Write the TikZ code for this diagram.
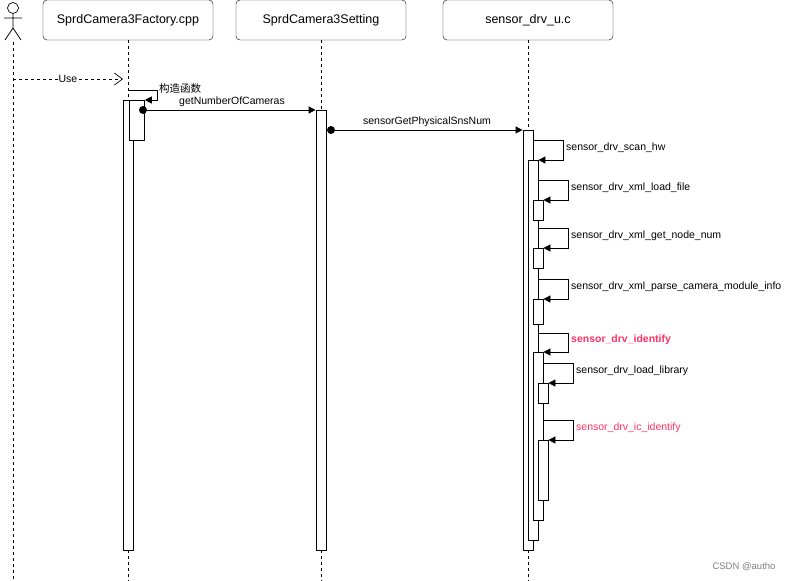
\documentclass[tikz,border=0pt]{standalone}
\usepackage{fontspec}
\setmainfont{Liberation Sans}
\newfontfamily\cjk{Noto Sans CJK SC}
\usetikzlibrary{arrows.meta}
\definecolor{redt}{HTML}{FF3366}
\begin{document}
\begin{tikzpicture}[x=1pt,y=-1pt,
  head/.style={draw,rounded corners=4pt,minimum width=170pt,minimum height=40pt,font=\fontsize{12.5}{14}\selectfont,inner sep=0},
  life/.style={dash pattern=on 3pt off 3pt,line width=0.7pt},
  act/.style={draw,fill=white,line width=0.8pt},
  msg/.style={line width=0.8pt,-{Triangle[length=7pt,width=7pt]}},
  lbl/.style={font=\fontsize{10.5}{12}\selectfont,anchor=west,inner sep=1pt},
  dot/.style={fill,circle,inner sep=0,minimum size=8pt}]
\useasboundingbox (0,0) rectangle (793,581);
% headers
\node[head] (f) at (128,20) {SprdCamera3Factory.cpp};
\node[head] (s) at (321,20) {SprdCamera3Setting};
\node[head] (d) at (528,20) {sensor\_drv\_u.c};
% actor
\draw[line width=0.7pt] (13,8) circle (5.5);
\draw[line width=0.7pt] (13,13.5) -- (13,28) (4,18) -- (22,18) (13,28) -- (5,40) (13,28) -- (21,40);
\coordinate (aend) at (13,581);
\draw[life] (13,42) -- (aend);
\draw[life] (f.south) -- (128,581);
\draw[life] (s.south) -- (321,581);
\draw[life] (d.south) -- (528,581);
% Use
\coordinate (u1) at (13,79); \coordinate (u2) at (123,79);
\draw[dash pattern=on 3pt off 3pt,line width=0.7pt,-{Straight Barb[length=8pt,width=12pt]}] (u1) -- node[fill=white,inner sep=1pt,font=\fontsize{10.5}{12}\selectfont,pos=0.5]{Use} (u2);
% activations
\node[act,minimum width=10pt,minimum height=450pt,inner sep=0,anchor=north] (fa) at (128,100) {};
\node[act,minimum width=15pt,minimum height=40pt,inner sep=0,anchor=north west] (fb) at (129,100) {};
\node[act,minimum width=10pt,minimum height=440pt,inner sep=0,anchor=north] (sa) at (321,110) {};
\node[act,minimum width=10pt,minimum height=420pt,inner sep=0,anchor=north] (d1) at (528,130) {};
\node[act,minimum width=10pt,minimum height=380pt,inner sep=0,anchor=north] (d2) at (533,160) {};
\node[act,minimum width=10pt,minimum height=20pt,inner sep=0,anchor=north] (d3a) at (538,200) {};
\node[act,minimum width=10pt,minimum height=20pt,inner sep=0,anchor=north] (d3b) at (538,248) {};
\node[act,minimum width=10pt,minimum height=25pt,inner sep=0,anchor=north] (d3c) at (538,299) {};
\node[act,minimum width=10pt,minimum height=168pt,inner sep=0,anchor=north] (d3d) at (538,352) {};
\node[act,minimum width=10pt,minimum height=20pt,inner sep=0,anchor=north] (d4a) at (543,383) {};
\node[act,minimum width=10pt,minimum height=60pt,inner sep=0,anchor=north] (d4b) at (543,440) {};
% self call constructor
\draw[msg] (128,90) -- (157,90) -- (157,100) -- (fb.north east);
\node[lbl,font=\cjk\fontsize{10.5}{12}\selectfont] (l0) at (158,89) {构造函数};
% getNumberOfCameras
\node[dot] (p1) at (143,110) {};
\draw[msg] (p1.center) -- (sa.north west);
\node[lbl,anchor=south] (l1) at (232,108) {getNumberOfCameras};
\node[dot] (p2) at (331,130) {};
\draw[msg] (p2.center) -- (d1.north west);
\node[lbl,anchor=south] (l2) at (427,128) {sensorGetPhysicalSnsNum};
% self calls
\draw[msg] (533,140) -- (563,140) -- (563,160) -- (d2.north east);
\node[lbl] at (565,148) {sensor\_drv\_scan\_hw};
\draw[msg] (538,180) -- (568,180) -- (568,200) -- (d3a.north east);
\node[lbl] at (570,188) {sensor\_drv\_xml\_load\_file};
\draw[msg] (538,228) -- (568,228) -- (568,248) -- (d3b.north east);
\node[lbl] at (570,236) {sensor\_drv\_xml\_get\_node\_num};
\draw[msg] (538,279) -- (568,279) -- (568,299) -- (d3c.north east);
\node[lbl] at (570,287) {sensor\_drv\_xml\_parse\_camera\_module\_info};
\draw[msg] (538,333) -- (568,333) -- (568,352) -- (d3d.north east);
\node[lbl,text=redt,font=\fontsize{10.5}{12}\selectfont\bfseries] at (570,340) {sensor\_drv\_identify};
\draw[msg] (543,363) -- (573,363) -- (573,383) -- (d4a.north east);
\node[lbl] at (575,371) {sensor\_drv\_load\_library};
\draw[msg] (543,420) -- (573,420) -- (573,440) -- (d4b.north east);
\node[lbl,text=redt] at (575,428) {sensor\_drv\_ic\_identify};
\node[font=\fontsize{9.5}{11}\selectfont,text=gray] (wm) at (744,567) {CSDN @autho};
\end{tikzpicture}
\end{document}
